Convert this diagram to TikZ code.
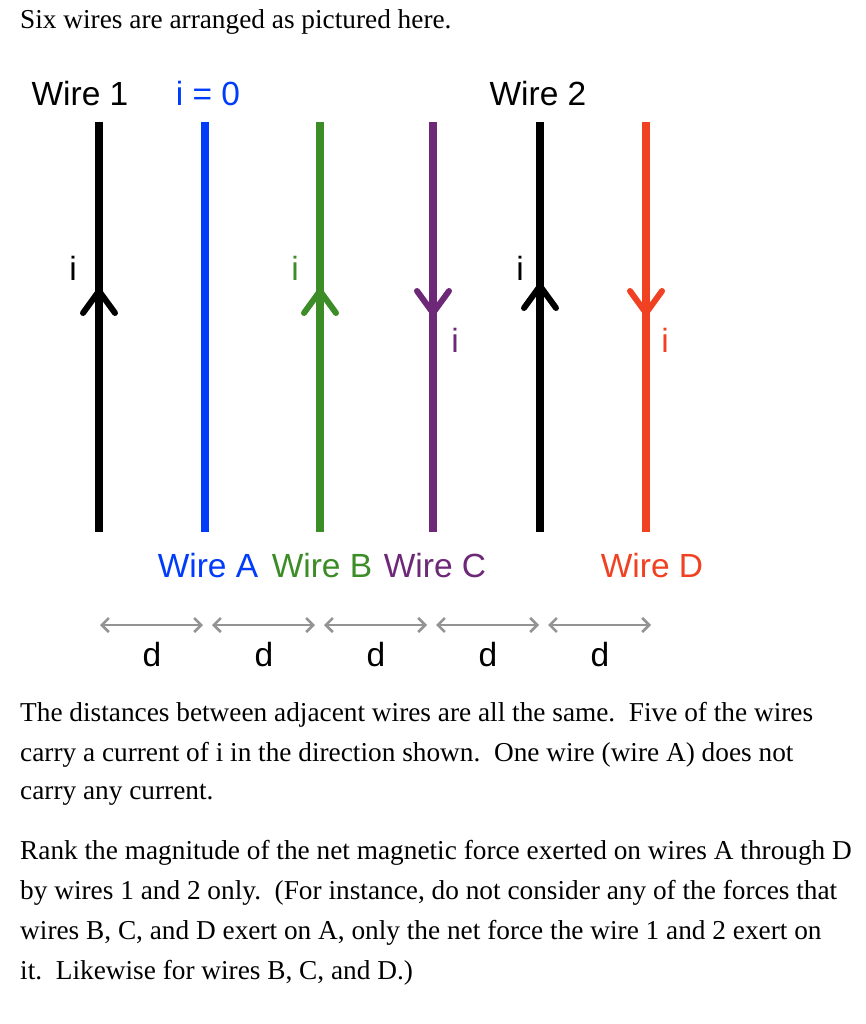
\documentclass[tikz,border=0pt]{standalone}
\usepackage{fontspec}
\setmainfont{Liberation Serif}
\newfontfamily\lsans{Liberation Sans}
\usetikzlibrary{arrows.meta}
\begin{document}
\begin{tikzpicture}[x=1pt,y=-1pt,
 wire/.style={line width=7.5pt},
 chev/.style={line width=6pt,line cap=round,line join=round},
 lab/.style={font=\lsans\fontsize{33.5}{36}\selectfont,inner sep=0pt},
 body/.style={font=\fontsize{27.3}{30}\selectfont,anchor=west,inner sep=0pt},
 dist/.style={gray!85,line width=2.5pt,{Straight Barb[length=7pt,width=14pt]}-{Straight Barb[length=7pt,width=14pt]}},
]
\useasboundingbox (0,0) rectangle (866,1024);
\definecolor{wblue}{RGB}{0,60,250}
\definecolor{wgreen}{RGB}{60,140,40}
\definecolor{wpurple}{RGB}{110,40,120}
\definecolor{wred}{RGB}{240,65,35}
\node[body] (t0) at (20,22) {Six wires are arranged as pictured here.};
\node[lab] (w1) at (80,94) {Wire 1};
\node[lab,text=wblue] (i0) at (208,94) {i = 0};
\node[lab] (w2) at (538,94) {Wire 2};
\foreach \n/\x/\c in {k1/99/black,a/205/wblue,b/320/wgreen,c/433/wpurple,k2/540/black,d/646/wred}{
  \coordinate (\n t) at (\x,122); \coordinate (\n b) at (\x,532);
  \draw[wire,\c] (\n t) -- (\n b);
}
\draw[chev,black] (83,313) -- (99,291) -- (115,313);
\draw[chev,wgreen] (304,313) -- (320,291) -- (336,313);
\draw[chev,wpurple] (417,291) -- (433,313) -- (449,291);
\draw[chev,black] (524,308) -- (540,286) -- (556,308);
\draw[chev,wred] (630,291) -- (646,313) -- (662,291);
\node[lab] (l1) at (73,268) {i};
\node[lab,text=wgreen] (l2) at (295,268) {i};
\node[lab,text=wpurple] (l3) at (455,340) {i};
\node[lab] (l4) at (520,268) {i};
\node[lab,text=wred] (l5) at (665,340) {i};
\node[lab,text=wblue] (wa) at (208,566) {Wire A};
\node[lab,text=wgreen] (wb) at (322,566) {Wire B};
\node[lab,text=wpurple] (wc) at (435,566) {Wire C};
\node[lab,text=wred] (wd) at (652,566) {Wire D};
\foreach \i/\x in {1/100,2/212,3/324,4/436,5/548}{
  \coordinate (p\i) at (\x,625); \coordinate (q\i) at ({\x+103},625);
  \draw[dist] (p\i) -- (q\i);
  \node[lab] (dd\i) at ({\x+52},655) {d};
}
\node[body] (p1) at (20,715) {The distances between adjacent wires are all the same.\ \ Five of the wires};
\node[body] (p2) at (20,755) {carry a current of i in the direction shown.\ \ One wire (wire A) does not};
\node[body] (p3) at (20,795) {carry any current.};
\node[body] (p4) at (20,853) {Rank the magnitude of the net magnetic force exerted on wires A through D};
\node[body] (p5) at (20,893) {by wires 1 and 2 only.\ \ (For instance, do not consider any of the forces that};
\node[body] (p6) at (20,933) {wires B, C, and D exert on A, only the net force the wire 1 and 2 exert on};
\node[body] (p7) at (20,973) {it.\ \ Likewise for wires B, C, and D.)};
\end{tikzpicture}
\end{document}
